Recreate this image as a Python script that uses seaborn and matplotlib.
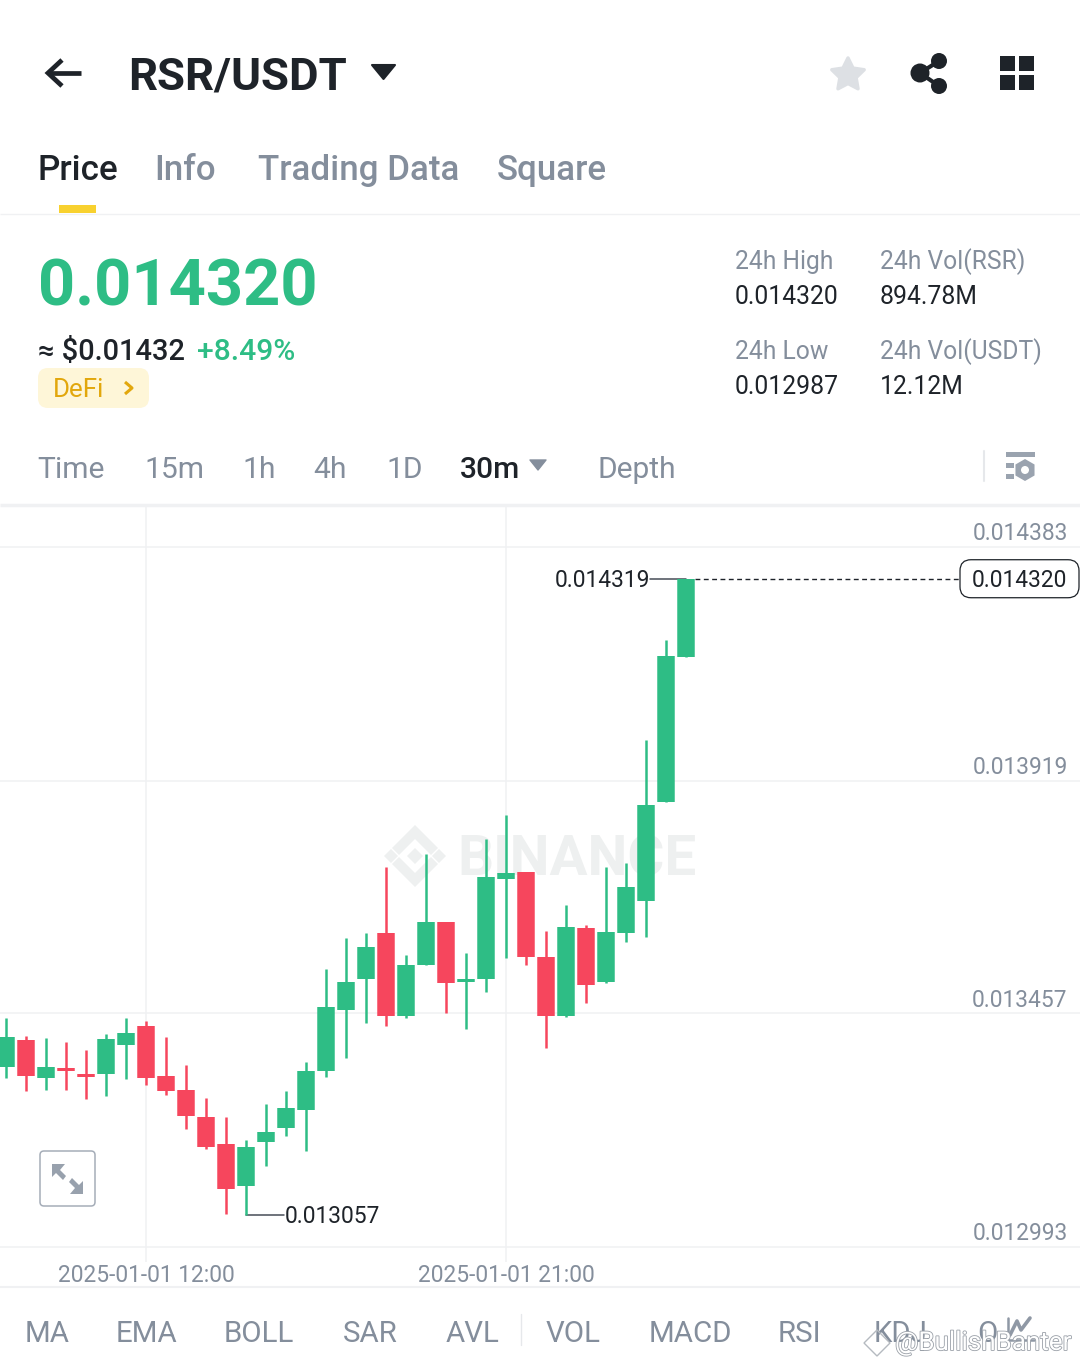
import numpy as np
import pandas as pd
import matplotlib
matplotlib.use('Agg')
import matplotlib.pyplot as plt
import matplotlib.patheffects as pe
from matplotlib.patches import FancyBboxPatch, Polygon, Rectangle, Circle, RegularPolygon
import seaborn as sns

# prices in millionths of a USDT
opens = [13350, 13404, 13329, 13348, 13336, 13336, 13394, 13432, 13333, 13305, 13251, 13198,
         13114, 13201, 13229, 13265, 13342, 13464, 13525, 13616, 13452, 13553, 13638, 13519,
         13525, 13724, 13738, 13569, 13452, 13626, 13519, 13616, 13680, 13877, 14165]
closes = [13410, 13333, 13350, 13342, 13331, 13406, 13418, 13329, 13303, 13253, 13192, 13108,
          13192, 13221, 13269, 13342, 13470, 13519, 13589, 13452, 13553, 13638, 13517, 13525,
          13728, 13736, 13569, 13452, 13628, 13513, 13618, 13708, 13871, 14167, 14320]
highs = [13448, 13412, 13408, 13400, 13384, 13416, 13448, 13442, 13410, 13354, 13289, 13251,
         13205, 13277, 13303, 13360, 13545, 13607, 13616, 13748, 13573, 13773, 13638, 13577,
         13803, 13851, 13738, 13620, 13672, 13632, 13748, 13755, 14000, 14198, 14320]
lows = [13329, 13303, 13305, 13305, 13287, 13293, 13327, 13315, 13295, 13227, 13188, 13058,
        13057, 13154, 13213, 13184, 13331, 13368, 13438, 13432, 13448, 13553, 13458, 13426,
        13499, 13567, 13553, 13388, 13450, 13477, 13517, 13599, 13609, 13877, 14165]

price_ticks = [0.014383, 0.013919, 0.013457, 0.012993]
time_idx = [7, 25]
time_labels = ['2025-01-01 12:00', '2025-01-01 21:00']
last_price = 0.014320
high_label = '0.014319'
low_label = '0.013057'

tabs = ['Price', 'Info', 'Trading Data', 'Square']
periods = ['Time', '15m', '1h', '4h', '1D', '30m', 'Depth']
indicators = ['MA', 'EMA', 'BOLL', 'SAR', 'AVL', 'VOL', 'MACD', 'RSI', 'KDJ', 'O']

GREEN = '#2EBD85'
RED = '#F6465D'
DARK = '#1E2329'
GREY = '#848E9C'
LINE = '#F0F1F3'
FONT = 'Roboto'
AXIS_PX = 22.8

sns.set_theme(style='white')
plt.rcParams['font.family'] = [FONT, 'DejaVu Sans']

W, H = 1080, 1364
fig = plt.figure(figsize=(W / 100, H / 100), dpi=100, facecolor='white')

# whole-page axes in pixel coordinates for the app chrome
ui = fig.add_axes([0, 0, 1, 1], zorder=0)
ui.set_xlim(0, W)
ui.set_ylim(H, 0)
ui.axis('off')


def txt(x, y, s, px, color=DARK, weight='normal', ha='left', **kw):
    return ui.text(x, y, s, fontsize=px * 0.72, color=color, fontweight=weight, ha=ha, va='baseline', **kw)


def hline(y, lw=1.5):
    ui.plot([0, W], [y, y], color=LINE, lw=lw, solid_capstyle='butt')


# header
ui.plot([62, 48, 62], [60, 73, 86], color=DARK, lw=3.4, solid_joinstyle='miter', solid_capstyle='butt')
ui.plot([48, 81], [73, 73], color=DARK, lw=3.4, solid_capstyle='butt')
txt(128, 90, 'RSR/USDT', 45.5, weight='bold')
ui.add_patch(Polygon([[372, 65], [395, 65], [383.5, 79]], closed=True, fc=DARK, ec=DARK, lw=1.5, joinstyle='round'))
ang = np.pi / 2 + np.arange(10) * np.pi / 5
rad = np.where(np.arange(10) % 2 == 0, 17, 8.5)
ui.add_patch(Polygon(np.c_[848 + rad * np.cos(ang), 75 - rad * np.sin(ang)], closed=True,
                     fc='#DDE0E4', ec='#DDE0E4', lw=2.5, joinstyle='round'))
ui.plot([939, 920, 939], [61, 73, 86], color=DARK, lw=3, solid_capstyle='butt')
for cx, cy, r in [(920, 73, 9.5), (939, 61, 8), (939, 86, 8)]:
    ui.add_patch(Circle((cx, cy), r, fc=DARK, ec='none'))
for sx, sy in [(1000, 56), (1019, 56), (1000, 75), (1019, 75)]:
    ui.add_patch(Rectangle((sx, sy), 15, 15, fc=DARK, ec='none'))

# tabs
for label, x in zip(tabs, [38, 154, 258, 497]):
    txt(x, 180, label, 35, color=DARK if label == 'Price' else GREY, weight='medium')
ui.add_patch(Rectangle((59, 205), 37, 8, fc='#F8D12F', ec='none'))
hline(213.5, 1)

# price block
txt(38, 306, '0.014320', 65, color=GREEN, weight='bold')
txt(38, 360, '≈ $0.01432', 29, weight='medium')
txt(197, 360, '+8.49%', 30, color=GREEN, weight='medium')
ui.add_patch(FancyBboxPatch((44, 374), 99, 28, boxstyle='round,pad=6,rounding_size=10', fc='#FEF6D8', ec='none'))
txt(53, 397, 'DeFi', 26, color='#E2A70C')
ui.plot([125, 132, 125], [382, 388, 394], color='#E2A70C', lw=2.2, solid_capstyle='butt')

txt(735, 269, '24h High', 24.6, color=GREY)
txt(735, 304, '0.014320', 24.8)
txt(735, 359, '24h Low', 24.6, color=GREY)
txt(735, 394, '0.012987', 24.8)
txt(880, 269, '24h Vol(RSR)', 24.6, color=GREY)
txt(880, 304, '894.78M', 24.8)
txt(880, 359, '24h Vol(USDT)', 24.6, color=GREY)
txt(880, 394, '12.12M', 24.8)

# period row
for label, x in zip(periods, [37, 144, 242, 313, 386, 460, 598]):
    active = label == '30m'
    txt(x, 478, label, 30, color=DARK if active else GREY, weight='medium' if active else 'normal')
ui.add_patch(Polygon([[530, 460], [546, 460], [538, 470]], closed=True, fc=GREY, ec=GREY, lw=1, joinstyle='round'))
ui.plot([984, 984], [451, 481], color='#E6E8EB', lw=1.5)
ui.add_patch(Rectangle((1006, 452), 29, 4.5, fc='#9AA3AF', ec='none'))
ui.add_patch(Rectangle((1006, 463), 8, 4.5, fc='#9AA3AF', ec='none'))
ui.add_patch(Rectangle((1006, 474), 8, 4.5, fc='#9AA3AF', ec='none'))
ui.add_patch(RegularPolygon((1025, 470), 6, radius=11, fc='#9AA3AF', ec='none'))
ui.add_patch(Circle((1025, 470), 4, fc='white', ec='none'))
hline(504.5, 2.5)

# chart frame lines and bottom row
hline(1287, 1.5)
for label, x in zip(indicators, [25, 116, 224, 343, 446, 546, 649, 778, 874, 977]):
    txt(x, 1342, label, 29.5, color=GREY)
ui.plot([521, 521], [1314, 1345], color='#E6E8EB', lw=1)

# watermark behind the candles
wm = '#EEF0F0'
txt(457, 875, 'BINANCE', 56.5, color=wm, weight='bold')
for sign in (1, -1):
    ui.add_patch(Polygon([[415, 856 - sign * 31], [438, 856 - sign * 8], [431, 856 - sign * 1], [415, 856 - sign * 17],
                          [399, 856 - sign * 1], [392, 856 - sign * 8]], closed=True, fc=wm, ec='none'))
for cx, r in [(391, 7), (439, 7), (415, 8)]:
    ui.add_patch(RegularPolygon((cx, 856), 4, radius=r, fc=wm, ec='none'))

# candles, pixel placement of the price axis comes from the grid rows
TOP, BOTTOM = 505, 1262
per_px = (price_ticks[0] - price_ticks[-1]) / (1247 - 547)
ax = fig.add_axes([0, 1 - BOTTOM / H, 1, (BOTTOM - TOP) / H], zorder=1)
ax.patch.set_alpha(0)

idx = np.arange(len(opens))
o, c, hi, lo = [np.array(v) / 1e6 for v in (opens, closes, highs, lows)]
direction = np.where(c >= o, 'up', 'down')
palette = {'up': GREEN, 'down': RED}

wicks = pd.DataFrame({'idx': np.r_[idx, idx], 'price': np.r_[hi, lo], 'dir': np.r_[direction, direction]})
bodies = pd.DataFrame({'idx': np.r_[idx, idx], 'price': np.r_[o, c], 'dir': np.r_[direction, direction]})
sns.lineplot(data=wicks, x='idx', y='price', hue='dir', units='idx', estimator=None, palette=palette,
             linewidth=1.8, solid_capstyle='butt', legend=False, ax=ax, zorder=3)
sns.lineplot(data=bodies, x='idx', y='price', hue='dir', units='idx', estimator=None, palette=palette,
             linewidth=12.6, solid_capstyle='butt', legend=False, ax=ax, zorder=4)

ax.set_xlim(-0.32, 53.68)
ax.set_ylim(price_ticks[0] - (BOTTOM - 547) * per_px, price_ticks[0] + (547 - TOP) * per_px)
ax.set_xticks(time_idx, time_labels)
ax.set_yticks(price_ticks, [''] * len(price_ticks))
ax.set_xlabel('')
ax.set_ylabel('')
ax.grid(True, color=LINE, lw=1.1, zorder=0)
ax.set_axisbelow(True)
ax.tick_params(axis='x', length=0, pad=1.5, labelsize=AXIS_PX * 0.72, labelcolor=GREY)
ax.tick_params(axis='y', length=0)
sns.despine(ax=ax, left=True, bottom=True)

for p in price_ticks:
    ax.annotate(f'{p:.6f}', xy=(1067 / W, p), xycoords=('axes fraction', 'data'), xytext=(0.5, 4.8),
                textcoords='offset points', ha='right', va='baseline', fontsize=AXIS_PX * 0.72, color=GREY)

# last price dashed line
ax.plot([34.45, 47.7], [last_price, last_price], color=DARK, lw=1, dashes=(3.5, 2.5), zorder=2)

# extreme labels
ax.plot([32.2, 34], [highs[-1] / 1e6] * 2, color='#474D57', lw=1.1, zorder=2)
ax.annotate(high_label, xy=(32.2, highs[-1] / 1e6), xytext=(-0.5, -1), textcoords='offset points', ha='right',
            va='center', fontsize=AXIS_PX * 0.72, color=DARK)
ax.plot([12, 13.9], [lows[12] / 1e6] * 2, color='#474D57', lw=1.1, zorder=2)
ax.annotate(low_label, xy=(13.9, lows[12] / 1e6), xytext=(0, -1), textcoords='offset points', ha='left',
            va='center', fontsize=AXIS_PX * 0.72, color=DARK)

# things that sit over the chart
top = fig.add_axes([0, 0, 1, 1], zorder=2)
top.set_xlim(0, W)
top.set_ylim(H, 0)
top.axis('off')

pill_y = 547 + (price_ticks[0] - last_price) / per_px
top.add_patch(FancyBboxPatch((970, pill_y - 9), 99, 18, boxstyle='round,pad=10,rounding_size=11', fc='white', ec=DARK, lw=0.9))
top.text(1067.5, pill_y + 1.5, f'{last_price:.6f}', fontsize=AXIS_PX * 0.72, color=DARK, ha='right', va='center')

top.add_patch(FancyBboxPatch((43, 1154), 49, 49, boxstyle='round,pad=3,rounding_size=4', fc='white', ec='#A5ADB8', lw=1.1))
top.add_patch(Polygon([[52, 1164], [52, 1177], [56, 1173], [63, 1180], [66, 1176], [60, 1170], [65, 1164]], fc='#98A1AD', ec='none'))
top.add_patch(Polygon([[83, 1194], [83, 1181], [79, 1185], [72, 1178], [69, 1182], [75, 1188], [70, 1194]], fc='#98A1AD', ec='none'))

# chart icon at the end of the indicator row
top.plot([1010, 1017, 1021, 1030], [1335, 1321, 1330, 1318], color='#8F98A5', lw=2.6)
top.plot([1008, 1008, 1034], [1318, 1340, 1340], color='#8F98A5', lw=1.8)

# social watermark
top.text(895, 1350, '@BullishBanter', fontsize=26 * 0.72, color='white', va='baseline',
         path_effects=[pe.withStroke(linewidth=1.2, foreground='#9AA0A8')])
top.add_patch(RegularPolygon((877, 1343), 4, radius=13, fc='none', ec='#B5BAC0', lw=1))

fig.savefig('out.png', dpi=100, facecolor='white')
